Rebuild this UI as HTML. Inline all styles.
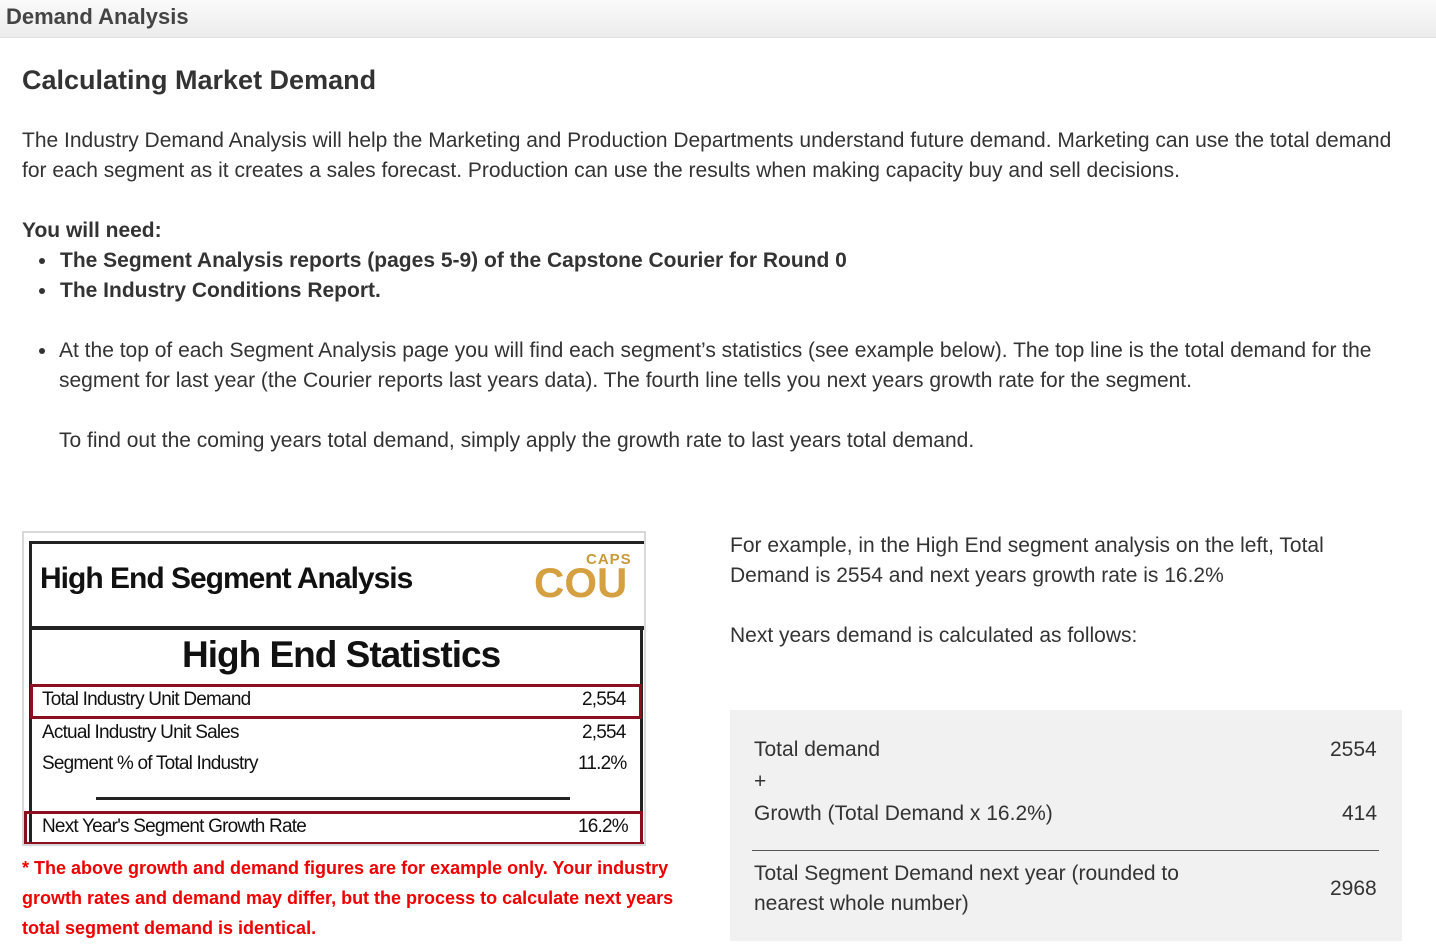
<!DOCTYPE html>
<html><head><meta charset="utf-8"><style>
*{margin:0;padding:0;box-sizing:border-box}
body{width:1436px;height:947px;overflow:hidden;background:#fff;font-family:"Liberation Sans",Arial,sans-serif;color:#333;position:relative}
.a{position:absolute;white-space:nowrap}
.t{font-size:21px;color:#333}
.b{font-weight:bold}
.dot{position:absolute;width:6px;height:6px;border-radius:50%;background:#333}
.r{color:#e00;font-size:18px;font-weight:bold}
.n{font-family:"Liberation Sans",Arial,sans-serif;color:#111;font-size:19px;letter-spacing:-0.8px}
</style></head><body>
<div class="a" style="left:0;top:0;width:1436px;height:38px;background:linear-gradient(#fafafa,#ececec);border-bottom:1px solid #e2e2e2"></div>
<div class="a b" style="left:6px;top:4px;font-size:22px;color:#444">Demand Analysis</div>
<div class="a b" style="left:22px;top:65px;font-size:27px;color:#333">Calculating Market Demand</div>
<div class="a t" style="left:22px;top:129px">The Industry Demand Analysis will help the Marketing and Production Departments understand future demand. Marketing can use the total demand</div>
<div class="a t" style="left:22px;top:159px">for each segment as it creates a sales forecast. Production can use the results when making capacity buy and sell decisions.</div>
<div class="a t b" style="left:22px;top:219px">You will need:</div>
<div class="dot" style="left:39px;top:258px"></div>
<div class="a t b" style="left:60px;top:249px">The Segment Analysis reports (pages 5-9) of the Capstone Courier for Round 0</div>
<div class="dot" style="left:39px;top:288px"></div>
<div class="a t b" style="left:60px;top:279px">The Industry Conditions Report.</div>
<div class="dot" style="left:39px;top:348px"></div>
<div class="a t" style="left:59px;top:339px">At the top of each Segment Analysis page you will find each segment’s statistics (see example below). The top line is the total demand for the</div>
<div class="a t" style="left:59px;top:369px">segment for last year (the Courier reports last years data). The fourth line tells you next years growth rate for the segment.</div>
<div class="a t" style="left:59px;top:429px">To find out the coming years total demand, simply apply the growth rate to last years total demand.</div>

<div class="a" style="left:22px;top:531px;width:624px;height:315px;border:2px solid #d8d8d8;overflow:hidden">
 <div class="a" style="left:5px;top:8px;width:620px;height:304px;border:3px solid #222;border-right:none"></div>
 <div class="a" style="left:5px;top:93px;width:620px;height:4px;background:#222"></div>
 <div class="a" style="left:616px;top:93px;width:3px;height:215px;background:#222"></div>
 <div class="a b" style="left:16px;top:29px;font-size:30px;color:#111;letter-spacing:-1px">High End Segment Analysis</div>
 <div class="a b" style="left:562px;top:18px;font-size:15px;color:#c89a3a;letter-spacing:1px">CAPS</div>
 <div class="a b" style="left:510px;top:26px;font-size:42px;color:#d4a040;letter-spacing:0px">COU</div>
 <div class="a b" style="left:158px;top:101px;font-size:37px;color:#111;letter-spacing:-1px">High End Statistics</div>
 <div class="a" style="left:6px;top:151px;width:612px;height:35px;border:3px solid #8b0f1f"></div>
 <div class="a n" style="left:18px;top:156px">Total Industry Unit Demand</div><div class="a n" style="left:558px;top:156px">2,554</div>
 <div class="a n" style="left:18px;top:189px">Actual Industry Unit Sales</div><div class="a n" style="left:558px;top:189px">2,554</div>
 <div class="a n" style="left:18px;top:220px">Segment % of Total Industry</div><div class="a n" style="left:554px;top:220px">11.2%</div>
 <div class="a" style="left:72px;top:264px;width:474px;height:3px;background:#222"></div>
 <div class="a" style="left:0;top:278px;width:619px;height:34px;border:3px solid #8b0f1f"></div>
 <div class="a n" style="left:18px;top:283px">Next Year's Segment Growth Rate</div><div class="a n" style="left:554px;top:283px">16.2%</div>
</div>
<div class="a r" style="left:22px;top:853px;line-height:30px;white-space:normal;width:680px">* The above growth and demand figures are for example only. Your industry growth rates and demand may differ, but the process to calculate next years total segment demand is identical.</div>

<div class="a t" style="left:730px;top:534px">For example, in the High End segment analysis on the left, Total</div>
<div class="a t" style="left:730px;top:564px">Demand is 2554 and next years growth rate is 16.2%</div>
<div class="a t" style="left:730px;top:624px">Next years demand is calculated as follows:</div>

<div class="a" style="left:730px;top:710px;width:672px;height:231px;background:#f1f1f1"></div>
<div class="a t" style="left:754px;top:738px">Total demand</div><div class="a t" style="left:1330px;top:738px">2554</div>
<div class="a t" style="left:754px;top:770px">+</div>
<div class="a t" style="left:754px;top:802px">Growth (Total Demand x 16.2%)</div><div class="a t" style="left:1342px;top:802px">414</div>
<div class="a" style="left:752px;top:850px;width:627px;height:1px;background:#555"></div>
<div class="a t" style="left:754px;top:862px">Total Segment Demand next year (rounded to</div>
<div class="a t" style="left:754px;top:892px">nearest whole number)</div>
<div class="a t" style="left:1330px;top:877px">2968</div>
</body></html>
